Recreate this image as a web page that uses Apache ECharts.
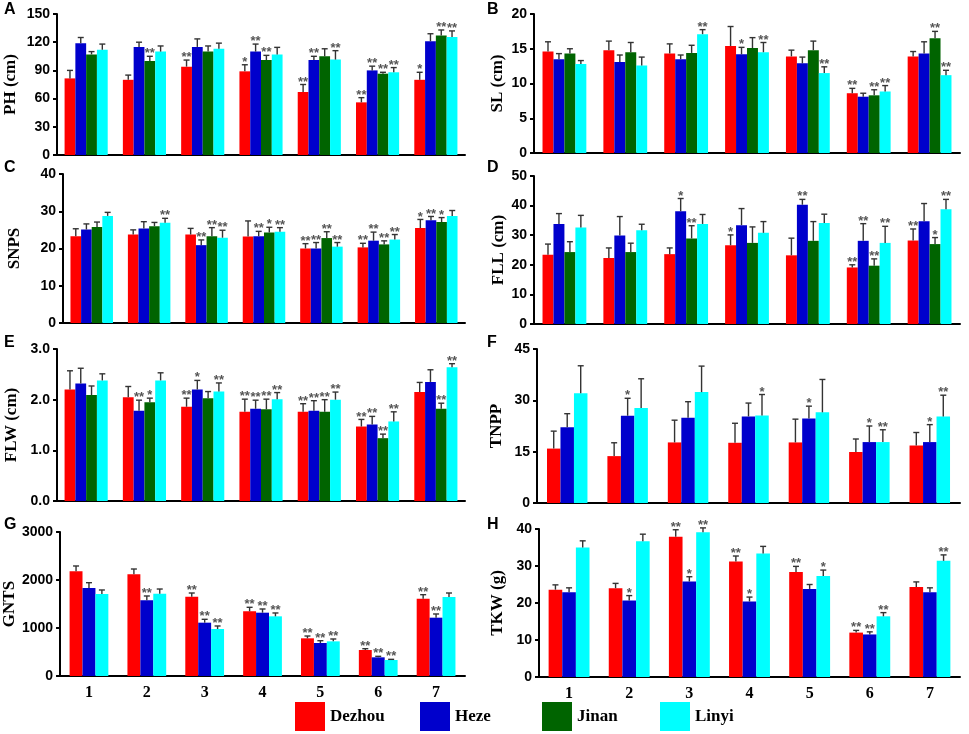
<!DOCTYPE html>
<html>
<head>
<meta charset="utf-8">
<script src="https://cdn.jsdelivr.net/npm/echarts@6/dist/echarts.min.js"></script>
<style>
  html, body { margin: 0; padding: 0; background: #fff; }
  #main { width: 969px; height: 734px; }
</style>
</head>
<body>
<div id="main"></div>
<script>
// ---- data (mean, SD, significance) ----
var categories = ['1', '2', '3', '4', '5', '6', '7'];
var sites4 = ['Dezhou', 'Heze', 'Jinan', 'Linyi'];
var sites3 = ['Dezhou', 'Heze', 'Linyi'];

// A  PH (cm)
var phMean = [[81.5, 80, 94, 89, 67, 56, 80], [119, 115, 115, 110, 101, 90, 121], [107, 100, 110, 101, 105, 86.5, 127], [112, 110, 113, 107, 101.5, 88, 125.5]];
var phSd = [[8.5, 5, 7, 7, 8, 5, 8], [6, 5, 8.5, 8, 4, 4.5, 8], [3, 5, 6, 5, 8, 1.5, 6], [6, 6, 6, 7.5, 9.5, 5, 6.5]];
var phSig = [['', '', '**', '*', '**', '**', '*'], ['', '', '', '**', '**', '**', ''], ['', '**', '', '**', '', '**', '**'], ['', '', '', '', '**', '**', '**']];

// B  SL (cm)
var slMean = [[14.6, 14.8, 14.3, 15.4, 13.9, 8.6, 13.9], [13.5, 13.1, 13.5, 14.2, 12.9, 8.1, 14.3], [14.3, 14.5, 14.4, 15.1, 14.8, 8.3, 16.5], [12.8, 12.6, 17.1, 14.5, 11.5, 8.85, 11.2]];
var slSd = [[1.4, 1.3, 1.4, 2.8, 0.9, 0.7, 0.7], [0.8, 1.0, 0.6, 1.0, 0.9, 0.5, 1.7], [0.7, 1.4, 1.1, 1.5, 1.3, 0.8, 1.0], [0.5, 1.2, 0.65, 1.4, 0.9, 0.85, 0.7]];
var slSig = [['', '', '', '', '', '**', ''], ['', '', '', '*', '', '', ''], ['', '', '', '', '', '**', '**'], ['', '', '**', '**', '**', '**', '**']];

// C  SNPS
var snpsMean = [[23.3, 23.75, 23.75, 23.2, 20, 20.3, 25.5], [25.1, 25.4, 20.9, 23.3, 20, 22.1, 27.6], [25.8, 26, 23.3, 24.3, 22.8, 21.1, 27.1], [28.75, 26.9, 22.9, 24.5, 20.5, 22.4, 28.75]];
var snpsSd = [[2, 1.25, 1.65, 4.2, 1.3, 1.1, 2.3], [1.5, 1.8, 1.4, 1.3, 1.6, 2.3, 1.0], [1.3, 1.0, 2.3, 1.4, 1.7, 0.95, 1.2], [0.95, 1.2, 2.0, 1.1, 1.1, 1.35, 1.45]];
var snpsSig = [['', '', '', '', '**', '**', '*'], ['', '', '**', '**', '**', '**', '**'], ['', '', '**', '*', '**', '**', '*'], ['', '**', '**', '**', '**', '**', '']];

// D  FLL (cm)
var fllMean = [[23.4, 22.3, 23.6, 26.6, 23.2, 19.1, 28.2], [33.8, 29.9, 38.1, 33.4, 40.3, 28.1, 34.7], [24.3, 24.3, 28.9, 27.4, 28.1, 19.7, 27], [32.6, 31.7, 33.8, 30.8, 34.1, 27.4, 38.8]];
var fllSd = [[3.6, 3.4, 2.1, 3.5, 5.8, 0.9, 3.9], [3.5, 6.4, 4.3, 5.6, 1.8, 5.8, 6.0], [3.5, 3.0, 4.3, 5.4, 6.5, 2.3, 2.2], [4.1, 2.0, 3.2, 3.8, 3.0, 5.6, 3.3]];
var fllSig = [['', '', '', '*', '', '**', '**'], ['', '', '*', '', '**', '**', ''], ['', '', '**', '', '', '**', '*'], ['', '', '', '', '', '**', '**']];

// E  FLW (cm)
var flwMean = [[2.2, 2.05, 1.86, 1.76, 1.76, 1.47, 2.15], [2.32, 1.78, 2.2, 1.82, 1.78, 1.51, 2.35], [2.09, 1.95, 2.03, 1.81, 1.76, 1.24, 1.82], [2.38, 2.38, 2.16, 2.01, 2.0, 1.57, 2.64]];
var flwSd = [[0.37, 0.21, 0.17, 0.25, 0.16, 0.14, 0.19], [0.3, 0.21, 0.18, 0.17, 0.2, 0.16, 0.24], [0.18, 0.08, 0.13, 0.2, 0.24, 0.08, 0.11], [0.13, 0.15, 0.17, 0.13, 0.15, 0.19, 0.07]];
var flwSig = [['', '', '**', '**', '**', '**', ''], ['', '**', '*', '**', '**', '**', ''], ['', '*', '', '**', '**', '**', '**'], ['', '', '**', '**', '**', '**', '**']];

// F  TNPP (no Jinan)
var tnppMean = [[15.9, 13.7, 17.7, 17.6, 17.7, 14.9, 16.8], [22.1, 25.5, 24.9, 25.3, 24.7, 17.8, 17.8], [32.1, 27.75, 32.4, 25.6, 26.5, 17.8, 25.3]];
var tnppSd = [[5.1, 3.9, 6.5, 5.7, 6.8, 3.8, 3.8], [4.0, 5.1, 4.7, 3.9, 3.6, 4.7, 5.1], [8.0, 8.55, 7.6, 6.1, 9.6, 3.6, 6.2]];
var tnppSig = [['', '', '', '', '', '', ''], ['', '*', '', '', '*', '*', '*'], ['', '', '', '*', '', '**', '**']];

// G  GNTS (no Jinan)
var gntsMean = [[2181, 2118, 1653, 1347, 785, 542, 1611], [1833, 1576, 1111, 1319, 688, 389, 1215], [1708, 1715, 979, 1243, 722, 333, 1646]];
var gntsSd = [[111, 111, 76, 84, 48, 27, 83], [111, 91, 70, 77, 48, 21, 77], [84, 97, 63, 70, 49, 14, 83]];
var gntsSig = [['', '', '**', '**', '**', '**', '**'], ['', '**', '**', '**', '**', '**', '**'], ['', '', '**', '**', '**', '**', '']];

// H  TKW (g) (no Jinan)
var tkwMean = [[23.6, 24, 37.9, 31.2, 28.4, 12, 24.3], [22.9, 20.7, 25.8, 20.4, 23.8, 11.5, 22.9], [35, 36.7, 39.1, 33.4, 27.3, 16.4, 31.4]];
var tkwSd = [[1.3, 1.3, 1.9, 1.5, 1.5, 0.6, 1.4], [1.2, 1.3, 1.3, 1.2, 1.2, 0.7, 1.2], [1.8, 1.9, 1.2, 1.9, 1.6, 1.0, 1.6]];
var tkwSig = [['', '', '**', '**', '**', '**', ''], ['', '*', '*', '*', '', '**', ''], ['', '', '**', '', '*', '**', '**']];

// ---- styling ----
var colorOf = { Dezhou: '#ff0000', Heze: '#0000cc', Jinan: '#006400', Linyi: '#00ffff' };
var sansBold = 'Liberation Sans';
var serif = 'Liberation Serif';

var panels = [
  { letter: 'A', lx: 4, ly: 2, grid: { left: 57, top: 14, width: 408, height: 141 }, name: 'PH (cm)', gapName: 38, max: 150, step: 30, mean: phMean, sd: phSd, sig: phSig, sites: sites4, gap: 0.26 },
  { letter: 'B', lx: 487, ly: 2, grid: { left: 534, top: 14, width: 426, height: 139 }, name: 'SL (cm)', gapName: 28, max: 20, step: 5, mean: slMean, sd: slSd, sig: slSig, sites: sites4, gap: 0.28 },
  { letter: 'C', lx: 4, ly: 160, grid: { left: 63, top: 174, width: 402, height: 149 }, name: 'SNPS', gapName: 40, max: 40, step: 10, mean: snpsMean, sd: snpsSd, sig: snpsSig, sites: sites4, gap: 0.26 },
  { letter: 'D', lx: 487, ly: 160, grid: { left: 534, top: 176, width: 426, height: 148 }, name: 'FLL (cm)', gapName: 26, max: 50, step: 10, mean: fllMean, sd: fllSd, sig: fllSig, sites: sites4, gap: 0.28 },
  { letter: 'E', lx: 4, ly: 335, grid: { left: 57, top: 349, width: 408, height: 152 }, name: 'FLW (cm)', gapName: 37, max: 3, step: 1, dec: 1, mean: flwMean, sd: flwSd, sig: flwSig, sites: sites4, gap: 0.26 },
  { letter: 'F', lx: 487, ly: 335, grid: { left: 537, top: 349, width: 423, height: 154 }, name: 'TNPP', gapName: 32, max: 45, step: 15, mean: tnppMean, sd: tnppSd, sig: tnppSig, sites: sites3, gap: 0.33 },
  { letter: 'G', lx: 4, ly: 517, grid: { left: 60, top: 532, width: 405, height: 144 }, name: 'GNTS', gapName: 40, max: 3000, step: 1000, mean: gntsMean, sd: gntsSd, sig: gntsSig, sites: sites3, gap: 0.33, xlab: true },
  { letter: 'H', lx: 487, ly: 517, grid: { left: 539, top: 529, width: 421, height: 148 }, name: 'TKW (g)', gapName: 33, max: 40, step: 10, mean: tkwMean, sd: tkwSd, sig: tkwSig, sites: sites3, gap: 0.32, xlab: true }
];

function errorRenderer(k, n, gap, sigRow) {
  return function (params, api) {
    var c = api.value(0), m = api.value(1), s = api.value(2);
    var base = api.coord([c, m]);
    var top = api.coord([c, m + s]);
    var band = api.size([1, 0])[0];
    var groupW = band * (1 - gap);
    var bw = groupW / n;
    var x = base[0] - groupW / 2 + (k + 0.5) * bw;
    var kids = [
      { type: 'line', shape: { x1: x, y1: base[1], x2: x, y2: top[1] }, style: { stroke: '#333', lineWidth: 1.4 } },
      { type: 'line', shape: { x1: x - 3, y1: top[1], x2: x + 3, y2: top[1] }, style: { stroke: '#333', lineWidth: 1.4 } }
    ];
    var t = sigRow[params.dataIndex];
    if (t) {
      kids.push({ type: 'text', style: { text: t, x: x, y: top[1] + 4, align: 'center', verticalAlign: 'bottom', fill: '#555', font: 'bold 13px ' + sansBold } });
    }
    return { type: 'group', children: kids };
  };
}

var grids = [], xAxes = [], yAxes = [], series = [], graphics = [];
panels.forEach(function (p, i) {
  grids.push(p.grid);
  xAxes.push({
    type: 'category', gridIndex: i, data: categories,
    axisLine: { lineStyle: { color: '#000', width: 2 } },
    axisTick: { show: false },
    axisLabel: { show: !!p.xlab, color: '#000', fontFamily: serif, fontWeight: 'bold', fontSize: 16, margin: 9 }
  });
  yAxes.push({
    type: 'value', gridIndex: i, min: 0, max: p.max, interval: p.step,
    name: p.name, nameLocation: 'middle', nameGap: p.gapName,
    nameTextStyle: { color: '#000', fontFamily: serif, fontWeight: 'bold', fontSize: 17 },
    axisLine: { show: true, lineStyle: { color: '#000', width: 2 } },
    axisTick: { show: true, length: 4, lineStyle: { color: '#000', width: 2 } },
    splitLine: { show: false },
    axisLabel: {
      color: '#000', fontFamily: sansBold, fontWeight: 'bold', fontSize: 14, margin: 7,
      formatter: function (v) { return p.dec ? v.toFixed(p.dec) : String(v); }
    }
  });
  var n = p.sites.length;
  p.sites.forEach(function (site, k) {
    series.push({
      type: 'bar', name: site, xAxisIndex: i, yAxisIndex: i,
      data: p.mean[k], barGap: '0%', barCategoryGap: (p.gap * 100) + '%',
      itemStyle: { color: colorOf[site] }, animation: false
    });
  });
  p.sites.forEach(function (site, k) {
    series.push({
      type: 'custom', name: site, xAxisIndex: i, yAxisIndex: i,
      data: p.mean[k].map(function (m, j) { return [j, m, p.sd[k][j]]; }),
      encode: { x: 0, y: 1 },
      itemStyle: { color: colorOf[site] },
      renderItem: errorRenderer(k, n, p.gap, p.sig[k]),
      z: 5, animation: false, clip: false
    });
  });
  graphics.push({
    type: 'text', left: p.lx, top: p.ly,
    style: { text: p.letter, fill: '#000', font: 'bold 16px ' + sansBold }
  });
});

var legendLeft = [290, 415, 537, 655];
var legends = sites4.map(function (s, i) {
  return {
    data: [{ name: s, itemStyle: { color: colorOf[s] } }],
    left: legendLeft[i], top: 697, icon: 'rect', itemWidth: 30, itemHeight: 29,
    textStyle: { color: '#000', fontFamily: serif, fontWeight: 'bold', fontSize: 17 }
  };
});

var chart = echarts.init(document.getElementById('main'));
chart.setOption({
  backgroundColor: '#fff',
  animation: false,
  grid: grids,
  xAxis: xAxes,
  yAxis: yAxes,
  legend: legends,
  graphic: graphics,
  series: series
});
</script>
</body>
</html>
